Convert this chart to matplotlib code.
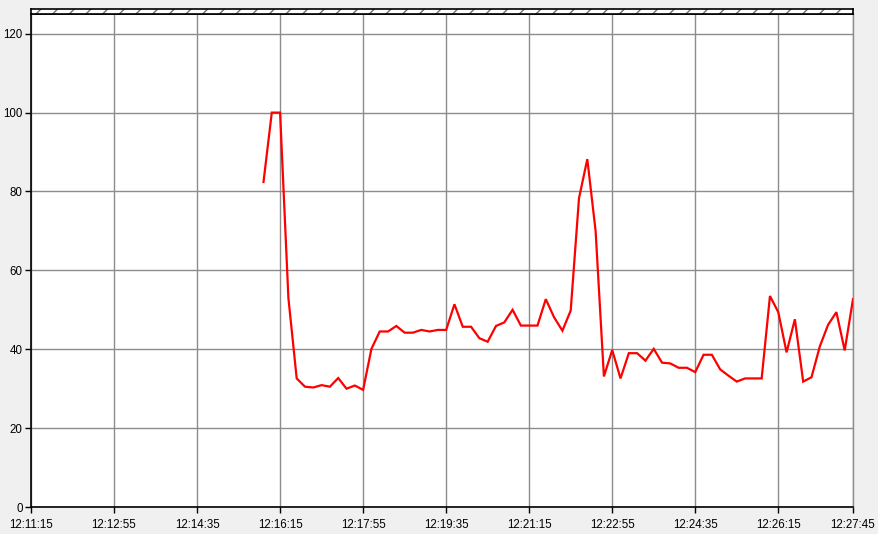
import matplotlib
matplotlib.use("Agg")
import matplotlib.pyplot as plt
import matplotlib.dates as mdates
from matplotlib.patches import Rectangle
import pandas as pd

# ---- data ----
start_time = "2024-01-01 12:15:55"
sample_step = "10s"
values = [82.4, 100.0, 100.0, 53.0, 32.6, 30.5, 30.3, 30.9, 30.5, 32.7,
          30.0, 30.8, 29.7, 40.1, 44.5, 44.5, 45.9, 44.2, 44.2, 44.9,
          44.5, 44.9, 44.9, 51.4, 45.7, 45.7, 42.8, 41.9, 45.9, 46.8,
          50.0, 46.0, 46.0, 46.0, 52.7, 48.1, 44.7, 49.8, 78.3, 88.2,
          70.0, 33.1, 39.8, 32.6, 39.0, 39.0, 37.1, 40.1, 36.6, 36.4,
          35.3, 35.3, 34.2, 38.6, 38.6, 34.9, 33.3, 31.8, 32.6, 32.6,
          32.6, 53.5, 49.4, 39.2, 47.6, 31.8, 32.9, 40.7, 46.2, 49.4,
          39.7, 52.7]
x_tick_labels = ["12:11:15", "12:12:55", "12:14:35", "12:16:15", "12:17:55",
                 "12:19:35", "12:21:15", "12:22:55", "12:24:35", "12:26:15",
                 "12:27:45"]
y_ticks = [0, 20, 40, 60, 80, 100, 120]
y_max = 125

times = pd.date_range(start=start_time, periods=len(values), freq=sample_step)
tick_times = pd.to_datetime(["2024-01-01 " + t for t in x_tick_labels])

W, H = 879, 534
fig = plt.figure(figsize=(W / 100, H / 100), dpi=100)
fig.patch.set_facecolor("#f0f0f0")

left, right, bottom, top = 31, 853, 507, 14
ax = fig.add_axes([left / W, 1 - bottom / H, (right - left) / W, (bottom - top) / H])
ax.set_facecolor("white")

ax.plot(times, values, color="#ff0000", lw=1.6, solid_joinstyle="miter", zorder=3)

ax.set_xlim(tick_times[0], tick_times[-1])
ax.set_ylim(0, y_max)
ax.set_xticks(tick_times)
ax.set_xticklabels(x_tick_labels)
ax.set_yticks(y_ticks)
ax.set_yticklabels([str(v) for v in y_ticks])

ax.grid(True, color="#8c8c8c", lw=1.0, zorder=1)
ax.set_axisbelow(True)

for s in ["left", "bottom", "top"]:
    ax.spines[s].set_color("black")
    ax.spines[s].set_linewidth(1.2)
ax.spines["right"].set_color("#8c8c8c")
ax.spines["right"].set_linewidth(1.0)

ax.tick_params(axis="both", direction="out", length=4, width=1, color="black",
               labelsize=8.3, labelcolor="#000000", pad=2)
for lab in ax.get_xticklabels() + ax.get_yticklabels():
    lab.set_fontfamily("Liberation Sans")
ax.tick_params(axis="x", pad=5)

# hatched band at top
bax = fig.add_axes([left / W, 1 - top / H, (right - left) / W, 5 / H])
bax.set_xlim(0, 1)
bax.set_ylim(0, 1)
bax.set_xticks([])
bax.set_yticks([])
bax.set_facecolor("white")
bax.add_patch(Rectangle((0, 0), 1, 1, facecolor="white", edgecolor="#707070",
                        hatch="//", lw=0))
for s in bax.spines.values():
    s.set_color("black")
    s.set_linewidth(1.2)

fig.savefig("out.png", dpi=100, facecolor=fig.get_facecolor())
